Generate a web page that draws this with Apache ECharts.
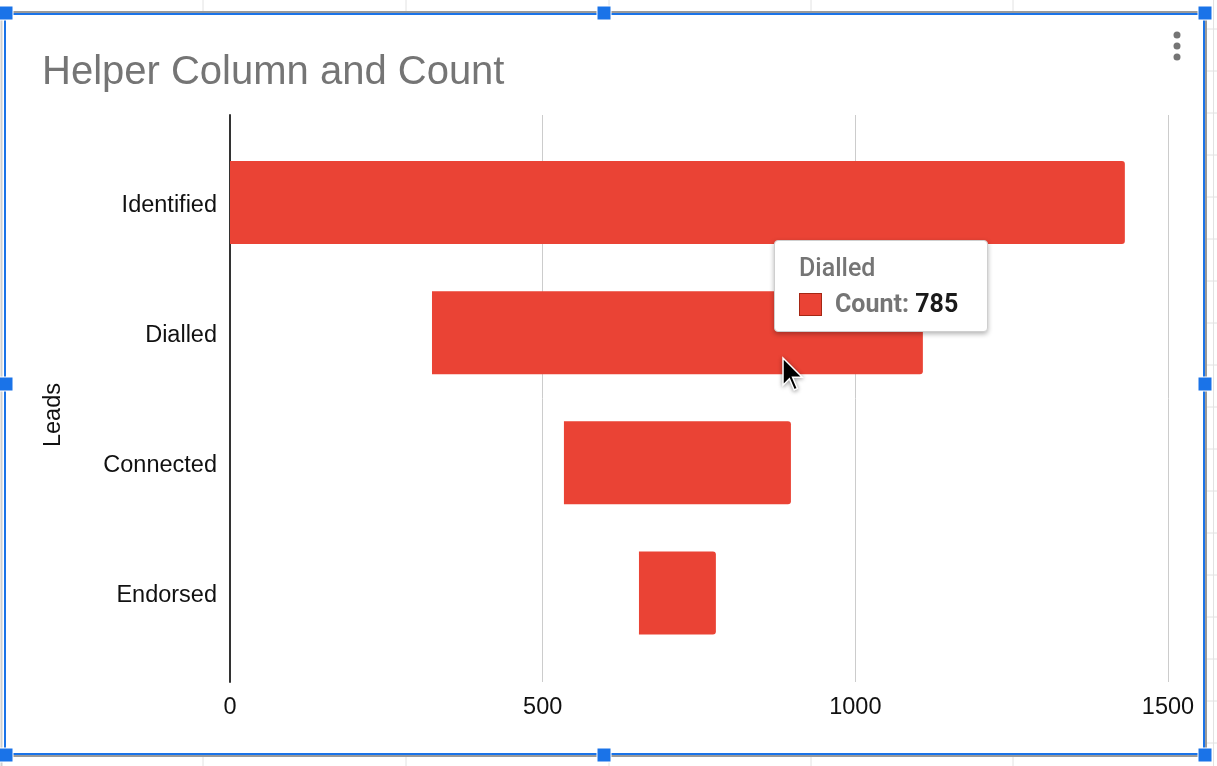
<!DOCTYPE html>
<html>
<head>
<meta charset="utf-8">
<script src="https://cdn.jsdelivr.net/npm/echarts@6/dist/echarts.min.js"></script>
<style>
  html, body { margin: 0; padding: 0; background: #fff; }
  #chart { width: 1217px; height: 766px; }
</style>
</head>
<body>
<div id="chart"></div>
<script>
// data
const categories = ['Identified', 'Dialled', 'Connected', 'Endorsed']
const helper = [0, 323, 534, 654]     // invisible offset column
const count = [1431, 785, 363, 123]
const xTicks = [0, 500, 1000, 1500]

const red = '#ea4335'
const blue = '#1a73e8'
const font = '"Liberation Sans", Arial, sans-serif'

const myChart = echarts.init(document.getElementById('chart'))

// sheet grid + selection frame around the chart
const deco = []
const sheetCols = [203, 406, 609, 811, 1013]
sheetCols.forEach(x => {
  deco.push({ type: 'line', shape: { x1: x, y1: 0, x2: x, y2: 11 }, style: { stroke: '#e2e2e2', lineWidth: 1 } })
  deco.push({ type: 'line', shape: { x1: x, y1: 757, x2: x, y2: 766 }, style: { stroke: '#e2e2e2', lineWidth: 1 } })
})
for (let y = 29; y < 766; y += 42) {
  deco.push({ type: 'line', shape: { x1: 1207, y1: y, x2: 1217, y2: y }, style: { stroke: '#e2e2e2', lineWidth: 1 } })
}
deco.push({ type: 'line', shape: { x1: 1213.5, y1: 0, x2: 1213.5, y2: 766 }, style: { stroke: '#e2e2e2', lineWidth: 1 } })
deco.push({ type: 'line', shape: { x1: 1.5, y1: 14, x2: 1.5, y2: 766 }, style: { stroke: '#d0d0d0', lineWidth: 2 } })

// gray outline, then blue selection border
deco.push({ type: 'rect', shape: { x: 4, y: 11, width: 1203, height: 2 }, style: { fill: '#9a9a9a' } })
deco.push({ type: 'rect', shape: { x: 4, y: 755, width: 1203, height: 2 }, style: { fill: '#9a9a9a' } })
deco.push({ type: 'rect', shape: { x: 1205, y: 13, width: 2, height: 742 }, style: { fill: '#9a9a9a' } })
deco.push({ type: 'rect', shape: { x: 4, y: 13, width: 1201, height: 2 }, style: { fill: blue } })
deco.push({ type: 'rect', shape: { x: 4, y: 753, width: 1201, height: 2 }, style: { fill: blue } })
deco.push({ type: 'rect', shape: { x: 4, y: 13, width: 2, height: 742 }, style: { fill: blue } })
deco.push({ type: 'rect', shape: { x: 1203, y: 13, width: 2, height: 742 }, style: { fill: blue } })

const handles = [[6, 13], [604, 13], [1205, 13], [6, 384], [1205, 384], [6, 755], [604, 755], [1205, 755]]
handles.forEach(([cx, cy]) => {
  deco.push({
    type: 'rect', z: 10,
    shape: { x: cx - 7, y: cy - 7, width: 14, height: 14 },
    style: { fill: blue, stroke: '#fff', lineWidth: 1 }
  })
})

// kebab menu
;[35, 46, 57].forEach(cy => {
  deco.push({ type: 'circle', shape: { cx: 1177, cy: cy, r: 3.5 }, style: { fill: '#757575' } })
})

// vertical axis title
deco.push({
  type: 'text', x: 54, y: 415, rotation: Math.PI / 2,
  style: { text: 'Leads', fill: '#111', font: '23.5px ' + font, align: 'center', verticalAlign: 'middle' }
})

// mouse pointer
const arrow = [[0, 0], [0, 17], [4, 13], [7, 20], [9, 19], [6, 12], [12, 12]].map(p => [783 + p[0] * 1.6, 358 + p[1] * 1.6])
deco.push({
  type: 'polygon', z: 100,
  shape: { points: arrow },
  style: { fill: '#000', stroke: '#fff', lineWidth: 1.5, shadowBlur: 4, shadowColor: 'rgba(0,0,0,0.35)', shadowOffsetY: 1 }
})

myChart.setOption({
  animation: false,
  backgroundColor: '#fff',
  title: {
    text: 'Helper Column and Count',
    left: 37,
    top: 48,
    textStyle: { fontFamily: font, fontSize: 40, fontWeight: 'normal', color: '#757575' }
  },
  tooltip: {
    trigger: 'item',
    triggerOn: 'none',
    alwaysShowContent: true,
    transitionDuration: 0,
    position: [774, 240],
    padding: [14, 24, 14, 24],
    backgroundColor: '#fff',
    borderColor: '#cfcfcf',
    borderWidth: 1,
    extraCssText: 'border-radius:4px;box-shadow:0 2px 5px rgba(0,0,0,0.3);width:164px;',
    formatter: p => `<div style="font-family:Roboto;font-size:25px;font-weight:500;color:#757575;line-height:26px">${p.name}</div>` +
      `<div style="font-family:Roboto;margin-top:10px;line-height:26px;font-size:25px;display:flex;align-items:center">` +
      `<span style="display:inline-block;width:21px;height:21px;background:${red};border:1px solid #a52714;margin-right:13px"></span>` +
      `<span style="color:#757575;font-weight:700">${p.seriesName}:</span>&nbsp;<span style="color:#1a1a1a;font-weight:700">${p.value}</span></div>`
  },
  graphic: deco,
  grid: [
    { left: 230, right: 49, top: 115, bottom: 84 },
    { left: 230, right: 49, top: 137.5, bottom: 108 }
  ],
  xAxis: [
    {
      gridIndex: 0,
      type: 'value',
      min: xTicks[0],
      max: xTicks[xTicks.length - 1],
      interval: 500,
      axisLine: { show: false },
      axisTick: { show: false },
      splitLine: { lineStyle: { color: '#cccccc', width: 1 } },
      axisLabel: { fontFamily: font, fontSize: 23.5, color: '#111', margin: 14, formatter: v => String(v) }
    },
    {
      gridIndex: 1,
      type: 'value',
      min: xTicks[0],
      max: xTicks[xTicks.length - 1],
      show: false
    }
  ],
  yAxis: [
    {
      gridIndex: 0,
      type: 'value',
      axisLine: { show: true, lineStyle: { color: '#333', width: 2 } },
      axisTick: { show: false },
      axisLabel: { show: false },
      splitLine: { show: false }
    },
    {
      gridIndex: 1,
      type: 'category',
      inverse: true,
      data: categories,
      axisLine: { show: false },
      axisTick: { show: false },
      axisLabel: {
        margin: 13,
        formatter: v => '{c|' + v + '}',
        rich: {
          c: { fontFamily: font, fontSize: 23.5, color: '#111', padding: [6, 0, 0, 0] }
        }
      }
    }
  ],
  series: [
    {
      name: 'Helper',
      type: 'bar',
      xAxisIndex: 1,
      yAxisIndex: 1,
      stack: 'funnel',
      barWidth: 83,
      silent: true,
      tooltip: { show: false },
      itemStyle: { color: 'transparent' },
      data: helper
    },
    {
      name: 'Count',
      type: 'bar',
      xAxisIndex: 1,
      yAxisIndex: 1,
      stack: 'funnel',
      barWidth: 83,
      emphasis: { disabled: true },
      itemStyle: { color: red, borderRadius: [0, 3, 3, 0] },
      data: count
    }
  ]
})

// the reference shows the hover card on Dialled
myChart.dispatchAction({ type: 'showTip', seriesIndex: 1, dataIndex: 1 })
</script>
</body>
</html>
